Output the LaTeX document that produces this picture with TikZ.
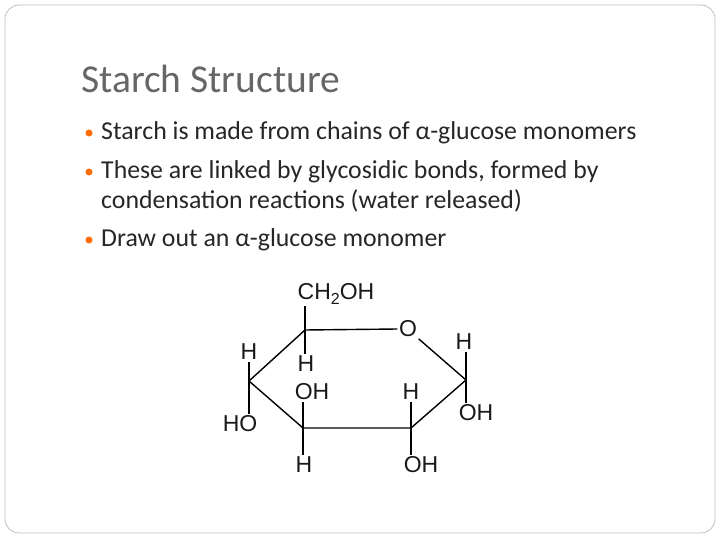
\documentclass[tikz,border=0pt]{standalone}
\usepackage{fontspec}
\setmainfont{Carlito}
\newfontfamily\arialf{Liberation Sans}
\begin{document}
\begin{tikzpicture}[x=1pt,y=-1pt,
  bond/.style={line width=1.4pt},
  atom/.style={font=\arialf\fontsize{23}{23}\selectfont,inner sep=1.5pt,text=black!90},
  bullet/.style={circle,fill=orange!85!red,inner sep=0pt,minimum size=7pt},
  btext/.style={font=\fontsize{25.8}{30}\selectfont,anchor=base west,inner sep=0pt,text=black!85}]
\useasboundingbox (0,0) rectangle (720,540);
\draw[black!25,line width=0.8pt,rounded corners=14pt] (5,5) rectangle (715,533);
\node[anchor=base west,inner sep=0pt,font=\fontsize{39.5}{39}\selectfont,text=black!60] (title) at (81,93) {Starch Structure};
\node[bullet] (b1) at (89,133) {};
\node[btext] (t1) at (101,140) {Starch is made from chains of α-glucose monomers};
\node[bullet] (b2) at (89,172) {};
\node[btext] (t2) at (101,179) {These are linked by glycosidic bonds, formed by};
\node[btext] (t2b) at (101,209) {condensation reactions (water released)};
\node[bullet] (b3) at (89,240) {};
\node[btext] (t3) at (101,247) {Draw out an α-glucose monomer};
% ring
\coordinate (c5) at (305,330);
\node[atom] (o) at (408,329) {O};
\coordinate (c1) at (466,380);
\coordinate (c2) at (411,428);
\coordinate (c3) at (303,428);
\coordinate (c4) at (249,381);
\draw[bond,line join=round] (o.west) -- (c5) -- (c4) -- (c3) -- (c2) -- (c1) -- (o.south east);
% substituents
\node[atom] (ch) at (336,294) {CH\raisebox{-0.35ex}{\fontsize{16}{16}\selectfont 2}OH};
\node[atom] (h5) at (306,364) {H};
\node[atom] (h4) at (249,352) {H};
\node[atom] (ho4) at (240,424) {HO};
\node[atom] (oh3) at (312,392) {OH};
\node[atom] (h3) at (304,465) {H};
\node[atom] (h2) at (411,392) {H};
\node[atom] (oh2) at (421,465) {OH};
\node[atom] (h1) at (464,342) {H};
\node[atom] (oh1) at (476,413) {OH};
\draw[bond] (c5) -- (ch.south -| c5);
\draw[bond] (c5) -- (h5.north -| c5);
\draw[bond] (c4) -- (h4.south -| c4);
\draw[bond] (c4) -- (ho4.north -| c4);
\draw[bond] (c3) -- (oh3.south -| c3);
\draw[bond] (c3) -- (h3.north -| c3);
\draw[bond] (c2) -- (h2.south -| c2);
\draw[bond] (c2) -- (oh2.north -| c2);
\draw[bond] (c1) -- (h1.south -| c1);
\draw[bond] (c1) -- (oh1.north -| c1);
\end{tikzpicture}
\end{document}
